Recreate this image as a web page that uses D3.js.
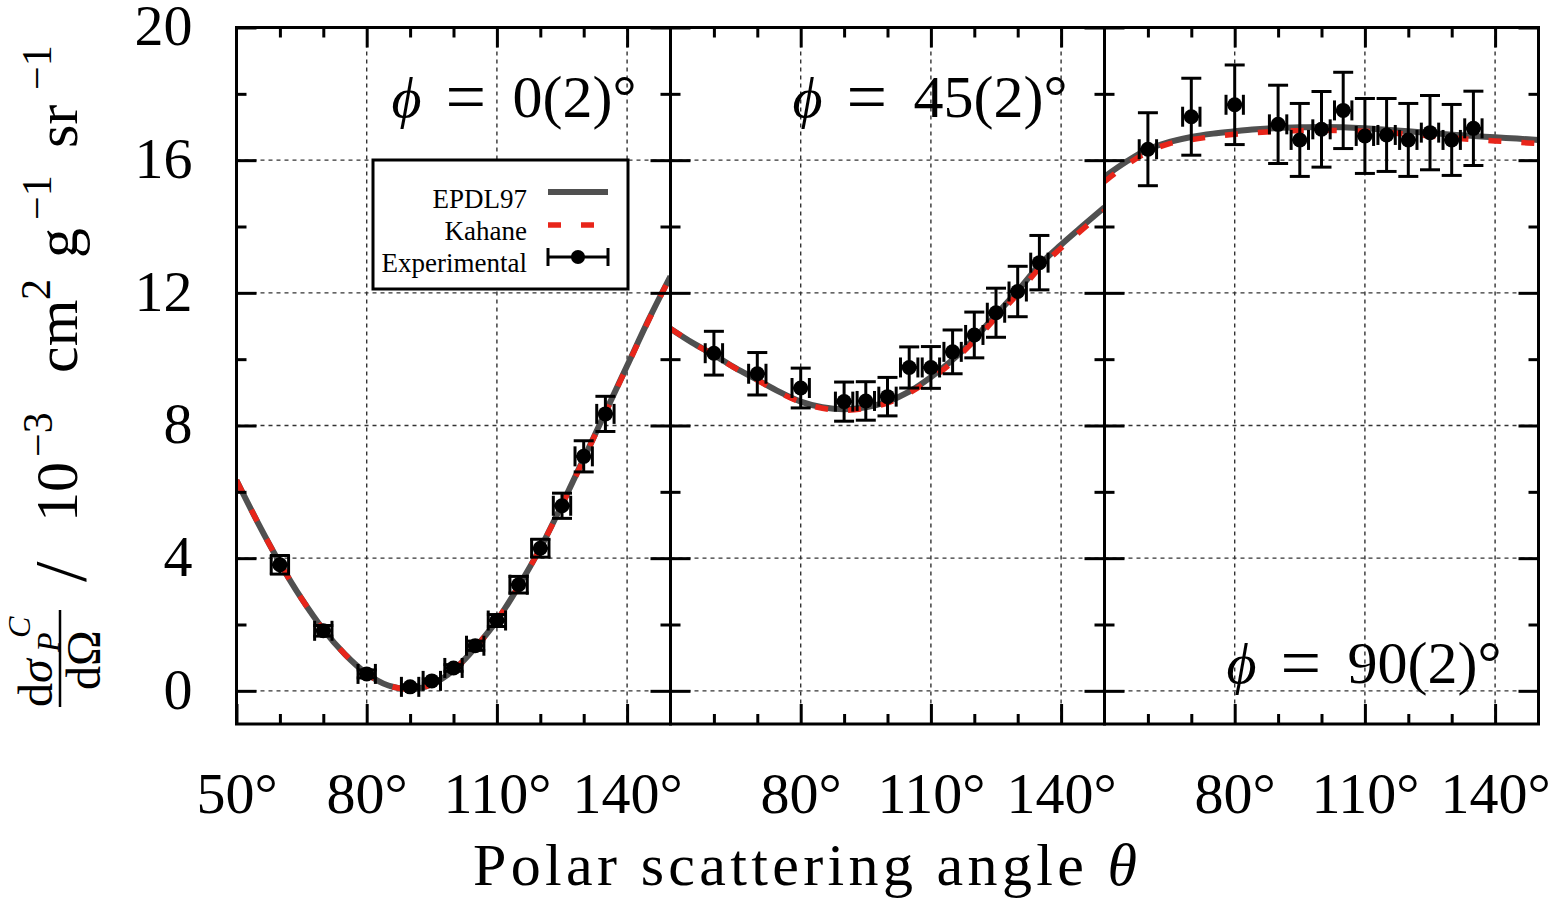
<!DOCTYPE html>
<html>
<head>
<meta charset="utf-8">
<script src="https://cdn.jsdelivr.net/npm/d3@7"></script>
<style>
  body { margin: 0; background: #fff; }
  svg { display: block; }
</style>
</head>
<body>
<svg id="chart" width="1550" height="902"></svg>
<script>
// ---- data ----
const phiValues = ['0(2)°', '45(2)°', '90(2)°']

const thetaCurve = [50, 55, 60, 65, 70, 75, 80, 85, 90, 95, 100, 105, 110, 115, 120, 125, 130, 135, 140, 145, 150]

const epdlPhi0 = [6.35, 5.05, 3.85, 2.78, 1.85, 1.1, 0.52, 0.16, 0.05, 0.2, 0.62, 1.3, 2.12, 3.15, 4.3, 5.62, 7.0, 8.4, 9.8, 11.2, 12.5]
const epdlPhi45 = [10.92, 10.5, 10.13, 9.73, 9.38, 9.02, 8.72, 8.55, 8.49, 8.55, 8.72, 9.02, 9.46, 9.98, 10.62, 11.34, 12.06, 12.84, 13.45, 14.02, 14.58]
const epdlPhi90 = [15.5, 15.95, 16.33, 16.55, 16.7, 16.8, 16.87, 16.93, 16.97, 16.99, 17.0, 16.99, 16.96, 16.92, 16.87, 16.82, 16.77, 16.73, 16.69, 16.65, 16.61]

const kahanePhi0 = [6.35, 5.05, 3.85, 2.78, 1.85, 1.1, 0.52, 0.16, 0.05, 0.2, 0.62, 1.3, 2.12, 3.15, 4.3, 5.6, 6.98, 8.38, 9.78, 11.18, 12.5]
const kahanePhi45 = [10.92, 10.5, 10.12, 9.72, 9.37, 9.0, 8.7, 8.52, 8.46, 8.52, 8.68, 8.98, 9.4, 9.92, 10.55, 11.25, 11.97, 12.74, 13.35, 13.92, 14.47]
const kahanePhi90 = [15.35, 15.85, 16.25, 16.5, 16.62, 16.71, 16.78, 16.83, 16.87, 16.89, 16.9, 16.89, 16.87, 16.83, 16.78, 16.73, 16.67, 16.62, 16.58, 16.54, 16.5]

const thetaExp = [60, 70, 80, 90, 95, 100, 105, 110, 115, 120, 125, 130, 135]
const thetaErr = 2

const expPhi0 = [3.8, 1.81, 0.51, 0.12, 0.3, 0.69, 1.36, 2.12, 3.2, 4.3, 5.58, 7.07, 8.35]
const errPhi0 = [0.28, 0.16, 0.12, 0.06, 0.06, 0.1, 0.14, 0.18, 0.25, 0.27, 0.38, 0.47, 0.53]
const expPhi45 = [10.18, 9.56, 9.13, 8.72, 8.74, 8.87, 9.75, 9.75, 10.22, 10.73, 11.4, 12.04, 12.91]
const errPhi45 = [0.66, 0.64, 0.6, 0.59, 0.58, 0.58, 0.62, 0.63, 0.66, 0.69, 0.74, 0.76, 0.82]
const expPhi90 = [16.33, 17.31, 17.67, 17.08, 16.61, 16.93, 17.5, 16.73, 16.76, 16.61, 16.83, 16.61, 16.96]
const errPhi90 = [1.1, 1.16, 1.2, 1.18, 1.1, 1.14, 1.15, 1.13, 1.1, 1.1, 1.12, 1.07, 1.12]

const xMajor = [80, 110, 140]
const xMinor = [60, 70, 90, 100, 120, 130]
const yMajor = [0, 4, 8, 12, 16, 20]
const yMinor = [2, 6, 10, 14, 18]
const legendLabels = ['EPDL97', 'Kahane', 'Experimental']

const panels = [
  { phi: phiValues[0], epdl: epdlPhi0, kahane: kahanePhi0, exp: expPhi0, err: errPhi0 },
  { phi: phiValues[1], epdl: epdlPhi45, kahane: kahanePhi45, exp: expPhi45, err: errPhi45 },
  { phi: phiValues[2], epdl: epdlPhi90, kahane: kahanePhi90, exp: expPhi90, err: errPhi90 }
]

// ---- layout ----
const serif = "'Liberation Serif', 'Times New Roman', serif"
const GRAY = '#505050'
const RED = '#e8251a'
const panelWidth = 434
const firstLeft = 236.5
const plotTop = 27.5
const plotBottom = 724

const svg = d3.select('#chart')
svg.append('rect').attr('width', 1550).attr('height', 902).attr('fill', '#fff')

const y = d3.scaleLinear().domain([-1, 20]).range([plotBottom, plotTop])

const line = (xs, vals, x) => d3.line()
  .x((d, i) => x(xs[i]))
  .y(d => y(d))
  .curve(d3.curveMonotoneX)(vals)

panels.forEach((p, i) => {
  const left = firstLeft + i * panelWidth
  const x = d3.scaleLinear().domain([50, 150]).range([left, left + panelWidth])
  const g = svg.append('g').attr('class', 'panel')

  const clipId = 'clip' + i
  svg.append('clipPath').attr('id', clipId)
    .append('rect').attr('x', left).attr('y', plotTop)
    .attr('width', panelWidth).attr('height', plotBottom - plotTop)

  // grid
  const grid = g.append('g').attr('stroke', '#333').attr('stroke-width', 1.4).attr('stroke-dasharray', '4,4')
  grid.selectAll('.gx').data(xMajor).join('line')
    .attr('x1', d => x(d)).attr('x2', d => x(d))
    .attr('y1', plotTop).attr('y2', plotBottom)
  grid.selectAll('.gy').data(yMajor.filter(v => v < 20)).join('line')
    .attr('x1', left).attr('x2', left + panelWidth)
    .attr('y1', d => y(d)).attr('y2', d => y(d))

  // theory curves
  const curves = g.append('g').attr('clip-path', 'url(#' + clipId + ')').attr('fill', 'none')
  curves.append('path').attr('d', line(thetaCurve, p.epdl, x))
    .attr('stroke', GRAY).attr('stroke-width', 6)
  curves.append('path').attr('d', line(thetaCurve, p.kahane, x))
    .attr('stroke', RED).attr('stroke-width', 5.5).attr('stroke-dasharray', '13,20')

  // experimental points
  const pts = g.append('g').selectAll('g').data(thetaExp).join('g')
    .attr('stroke', '#000').attr('stroke-width', 3)
  pts.each(function (t, k) {
    const s = d3.select(this)
    const cx = x(t)
    const cy = y(p.exp[k])
    const y0 = y(p.exp[k] - p.err[k])
    const y1 = y(p.exp[k] + p.err[k])
    const x0 = x(t - thetaErr)
    const x1 = x(t + thetaErr)
    s.append('line').attr('x1', cx).attr('x2', cx).attr('y1', y0).attr('y2', y1)
    s.append('line').attr('x1', cx - 10).attr('x2', cx + 10).attr('y1', y0).attr('y2', y0)
    s.append('line').attr('x1', cx - 10).attr('x2', cx + 10).attr('y1', y1).attr('y2', y1)
    s.append('line').attr('x1', x0).attr('x2', x1).attr('y1', cy).attr('y2', cy)
    s.append('line').attr('x1', x0).attr('x2', x0).attr('y1', cy - 10).attr('y2', cy + 10)
    s.append('line').attr('x1', x1).attr('x2', x1).attr('y1', cy - 10).attr('y2', cy + 10)
    s.append('circle').attr('cx', cx).attr('cy', cy).attr('r', 7.5).attr('fill', '#000').attr('stroke', 'none')
  })

  // ticks on all four sides, pointing inward
  const tickStyle = a => a.call(s => s.select('.domain').remove())
    .call(s => s.selectAll('line').attr('stroke', '#000').attr('stroke-width', 3))
  const noLabel = () => ''
  g.append('g').attr('transform', `translate(0,${plotBottom})`)
    .call(d3.axisBottom(x).tickValues(xMinor).tickSize(-10).tickFormat(noLabel)).call(tickStyle)
  g.append('g').attr('transform', `translate(0,${plotTop})`)
    .call(d3.axisTop(x).tickValues(xMinor).tickSize(-10).tickFormat(noLabel)).call(tickStyle)
  g.append('g').attr('transform', `translate(0,${plotTop})`)
    .call(d3.axisTop(x).tickValues(xMajor).tickSize(-20).tickFormat(noLabel)).call(tickStyle)
  const bottomMajor = g.append('g').attr('transform', `translate(0,${plotBottom})`)
    .call(d3.axisBottom(x).tickValues(i === 0 ? [50].concat(xMajor) : xMajor)
      .tickSize(-20).tickPadding(48).tickFormat(d => d + '°'))
    .call(tickStyle)
  bottomMajor.selectAll('text').attr('font-family', serif).attr('font-size', 58).attr('fill', '#000')

  const leftMajor = g.append('g').attr('transform', `translate(${left},0)`)
    .call(d3.axisLeft(y).tickValues(yMajor).tickSize(-20).tickPadding(44)
      .tickFormat(i === 0 ? d => d : noLabel))
    .call(tickStyle)
  leftMajor.selectAll('text').attr('font-family', serif).attr('font-size', 58).attr('fill', '#000').attr('dy', '0.3em')
  g.append('g').attr('transform', `translate(${left},0)`)
    .call(d3.axisLeft(y).tickValues(yMinor).tickSize(-10).tickFormat(noLabel)).call(tickStyle)
  g.append('g').attr('transform', `translate(${left + panelWidth},0)`)
    .call(d3.axisRight(y).tickValues(yMajor).tickSize(-20).tickFormat(noLabel)).call(tickStyle)
  g.append('g').attr('transform', `translate(${left + panelWidth},0)`)
    .call(d3.axisRight(y).tickValues(yMinor).tickSize(-10).tickFormat(noLabel)).call(tickStyle)

  // frame
  g.append('rect').attr('x', left).attr('y', plotTop)
    .attr('width', panelWidth).attr('height', plotBottom - plotTop)
    .attr('fill', 'none').attr('stroke', '#000').attr('stroke-width', 3)

  // phi label
  const lx = left + (i === 0 ? 155 : 122)
  const ly = i === 2 ? 683 : 117
  const lab = g.append('text').attr('font-family', serif).attr('font-size', 58).attr('y', ly)
  lab.append('tspan').attr('x', lx).attr('font-style', 'italic').text('ϕ')
  lab.append('tspan').attr('x', lx + 54).attr('font-size', 72).attr('dy', 4).text('=')
  lab.append('tspan').attr('x', lx + 121).attr('font-size', 60).attr('dy', -4).text(p.phi)
})

// ---- legend ----
const leg = svg.append('g')
leg.append('rect').attr('x', 373).attr('y', 160).attr('width', 255).attr('height', 129)
  .attr('fill', '#fff').attr('stroke', '#000').attr('stroke-width', 3)
leg.selectAll('text').data(legendLabels).join('text')
  .attr('x', 527).attr('y', (d, k) => 208 + k * 31.8)
  .attr('text-anchor', 'end').attr('font-family', serif).attr('font-size', 27)
  .text(d => d)
leg.append('line').attr('x1', 548).attr('x2', 608).attr('y1', 192).attr('y2', 192)
  .attr('stroke', GRAY).attr('stroke-width', 6)
leg.append('line').attr('x1', 548).attr('x2', 608).attr('y1', 225).attr('y2', 225)
  .attr('stroke', RED).attr('stroke-width', 5.5).attr('stroke-dasharray', '13,20')
const legErr = leg.append('g').attr('stroke', '#000').attr('stroke-width', 3)
legErr.append('line').attr('x1', 548).attr('x2', 608).attr('y1', 257).attr('y2', 257)
legErr.append('line').attr('x1', 548).attr('x2', 548).attr('y1', 248).attr('y2', 266)
legErr.append('line').attr('x1', 608).attr('x2', 608).attr('y1', 248).attr('y2', 266)
legErr.append('circle').attr('cx', 578).attr('cy', 257).attr('r', 7).attr('fill', '#000').attr('stroke', 'none')

// ---- axis titles ----
svg.append('text').attr('x', 805).attr('y', 885).attr('text-anchor', 'middle')
  .attr('font-family', serif).attr('font-size', 60)
  .attr('textLength', 664).attr('lengthAdjust', 'spacing')
  .html('Polar scattering angle <tspan font-style="italic">θ</tspan>')

// y title, rotated: local (u, v) -> screen (v, -u)
const yt = svg.append('g').attr('transform', 'rotate(-90)').attr('font-family', serif)
yt.append('line').attr('x1', -707).attr('x2', -610).attr('y1', 60).attr('y2', 60)
  .attr('stroke', '#000').attr('stroke-width', 2.5)
yt.append('text').attr('x', -707).attr('y', 52).attr('font-size', 48)
  .html('d<tspan font-style="italic">σ</tspan>')
yt.append('text').attr('x', -638).attr('y', 30).attr('font-size', 32).attr('font-style', 'italic').text('C')
yt.append('text').attr('x', -652).attr('y', 59).attr('font-size', 32).attr('font-style', 'italic').text('P')
yt.append('text').attr('x', -690).attr('y', 100).attr('font-size', 48).text('dΩ')
const unitParts = [
  { t: '/', u: -582, v: 86, s: 74 },
  { t: '10', u: -522, v: 77, s: 60 },
  { t: '−3', u: -457, v: 52, s: 42 },
  { t: 'cm', u: -373, v: 77, s: 60 },
  { t: '2', u: -300, v: 50, s: 42 },
  { t: 'g', u: -258, v: 77, s: 60 },
  { t: '−1', u: -220, v: 51, s: 42 },
  { t: 'sr', u: -148, v: 77, s: 60 },
  { t: '−1', u: -90, v: 51, s: 42 }
]
yt.selectAll('.unit').data(unitParts).join('text')
  .attr('x', d => d.u).attr('y', d => d.v).attr('font-size', d => d.s).text(d => d.t)
</script>
</body>
</html>
